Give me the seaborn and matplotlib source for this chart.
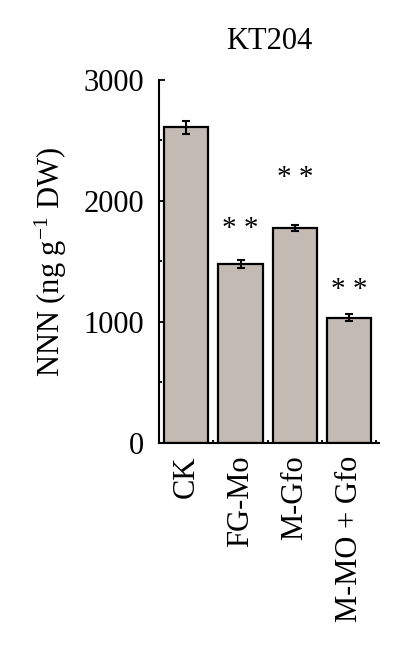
import matplotlib
matplotlib.use("Agg")
import matplotlib.pyplot as plt
import seaborn as sns
import pandas as pd

sns.set_style("ticks")
plt.rcParams['font.family'] = ['Liberation Serif', 'DejaVu Serif']
plt.rcParams['mathtext.fontset'] = 'custom'
plt.rcParams['mathtext.rm'] = 'Liberation Serif'
plt.rcParams['mathtext.it'] = 'Liberation Serif:italic'
plt.rcParams['text.color'] = 'black'
plt.rcParams['axes.labelcolor'] = 'black'
plt.rcParams['xtick.color'] = 'black'
plt.rcParams['ytick.color'] = 'black'
plt.rcParams['axes.edgecolor'] = 'black'

bar_color = "#C4BAB4"

treatments = ["CK", "FG-Mo", "M-Gfo", "M-MO + Gfo"]
nnn_mean = [2610, 1480, 1775, 1035]
nnn_err = [55, 30, 25, 30]
sig_marks = ["", "* *", "* *", "* *"]
sig_y = [0, 1770, 2190, 1265]

df = pd.DataFrame({"treatment": treatments, "nnn": nnn_mean})

fig = plt.figure(figsize=(4.12, 6.6), dpi=100)
ax = fig.add_axes([0.386, 0.3288, 0.534, 0.55])

sns.barplot(data=df, x="treatment", y="nnn", color=bar_color, width=0.82,
            edgecolor="black", linewidth=1.6, saturation=1, errorbar=None, ax=ax)
ax.errorbar(range(len(treatments)), nnn_mean, yerr=nnn_err, fmt="none",
            ecolor="black", elinewidth=1.5, capsize=3, capthick=1.5)

for i, (mark, y) in enumerate(zip(sig_marks, sig_y)):
    if mark:
        ax.text(i, y, mark, ha="center", va="center", fontsize=21)

ax.set_xlim(-0.5, 3.55)
ax.set_ylim(0, 3000)
ax.set_yticks([0, 1000, 2000, 3000])
ax.set_yticks([500, 1500, 2500], minor=True)
ax.set_xticks([-0.5, 0.5, 1.5, 2.5, 3.5], minor=True)
ax.tick_params(axis="both", which="major", direction="in", length=4, width=1.3, labelsize=22)
ax.tick_params(axis="both", which="minor", direction="in", length=2, width=1.3)
ax.tick_params(axis="y", pad=11)
ax.tick_params(axis="x", pad=9)
plt.setp(ax.get_xticklabels(), rotation=90)

sns.despine(ax=ax)
for s in ["left", "bottom"]:
    ax.spines[s].set_linewidth(1.5)

ax.set_xlabel("")
ax.set_ylabel("NNN (ng g$^{-1}$ DW)", fontsize=22, labelpad=10)
ax.set_title("KT204", fontsize=22, pad=22)

fig.savefig("out.png", dpi=100)
